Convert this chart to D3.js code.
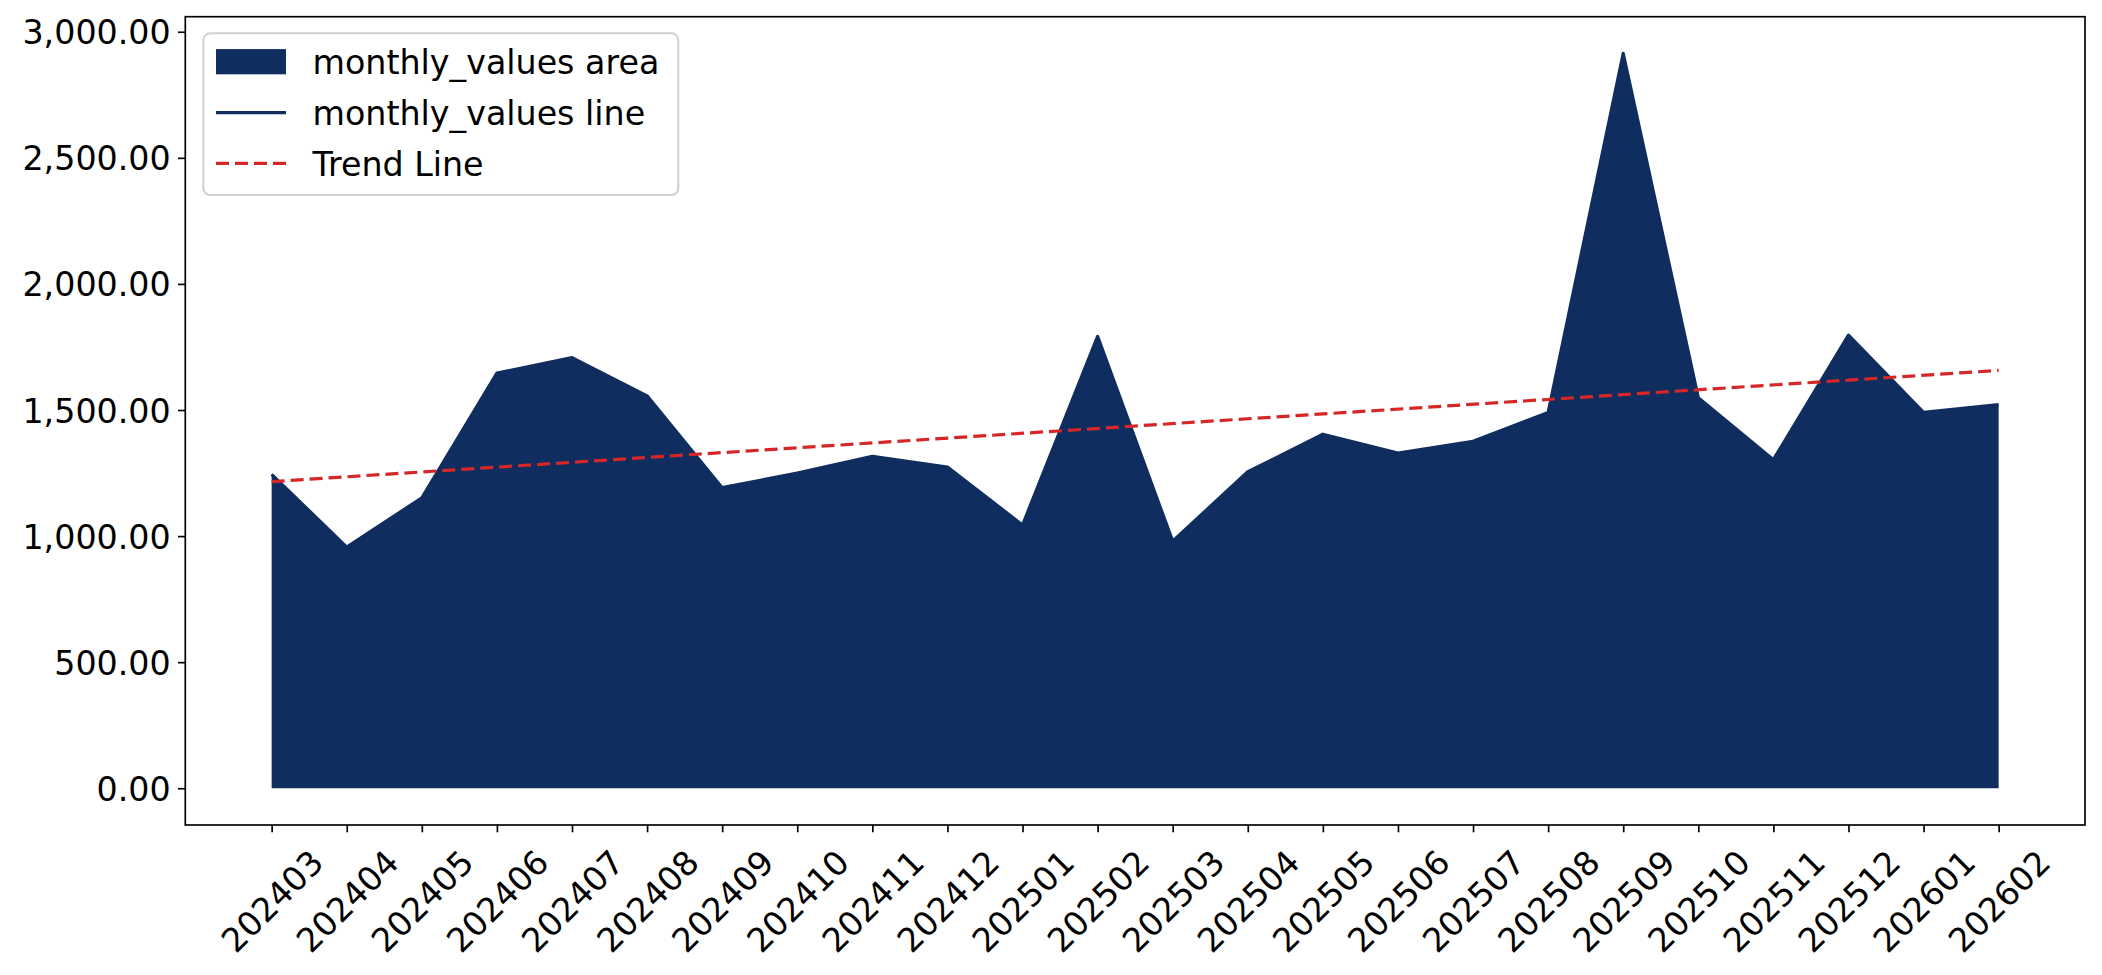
<!DOCTYPE html>
<html>
<head>
<meta charset="utf-8">
<script src="https://cdn.jsdelivr.net/npm/d3@7/dist/d3.min.js"></script>
<style>
  body { margin: 0; background: #fff; }
  svg { display: block; font-family: 'DejaVu Sans', sans-serif; }
</style>
</head>
<body>
<svg id="chart" width="2102" height="975"></svg>
<script>
'use strict'

const months = ['202403', '202404', '202405', '202406', '202407', '202408', '202409', '202410',
  '202411', '202412', '202501', '202502', '202503', '202504', '202505', '202506', '202507',
  '202508', '202509', '202510', '202511', '202512', '202601', '202602']

const monthlyValues = [1245, 956, 1152, 1646, 1708, 1556, 1192, 1250, 1316, 1274, 1044, 1792,
  980, 1255, 1404, 1329, 1376, 1490, 2914, 1549, 1303, 1797, 1491, 1521]

// trend line as read at the first and last month
const trendEnds = [1216, 1657]

const yTicks = [0, 500, 1000, 1500, 2000, 2500, 3000]

const legendLabels = ['monthly_values area', 'monthly_values line', 'Trend Line']

const navy = '#0f2d5e'
const red = '#d62728'
const fontPx = 33.3
const tickLen = 7.3
const tickPad = 7.3
const lineWidth = 3.2
const dashes = '13,6'

const frame = { left: 185.3, right: 2085, top: 16.7, bottom: 825 }

const svg = d3.select('#chart')

const points = monthlyValues.map((v, i) => ({ i, v }))

// matplotlib style 5% margins on both axes
const n = months.length - 1
const x = d3.scaleLinear()
  .domain([-0.05 * n, n * 1.05])
  .range([frame.left, frame.right])

const yMax = d3.max(monthlyValues)
const y = d3.scaleLinear()
  .domain([-0.05 * yMax, yMax * 1.05])
  .range([frame.bottom, frame.top])

const plot = svg.append('g')

plot.append('path')
  .datum(points)
  .attr('fill', navy)
  .attr('d', d3.area()
    .x(d => x(d.i))
    .y0(y(0))
    .y1(d => y(d.v)))

// round joins so the sharp peaks don't get long miter spikes
plot.append('path')
  .datum(points)
  .attr('fill', 'none')
  .attr('stroke', navy)
  .attr('stroke-width', lineWidth)
  .attr('stroke-linejoin', 'round')
  .attr('d', d3.line().x(d => x(d.i)).y(d => y(d.v)))

plot.append('path')
  .datum([{ i: 0, v: trendEnds[0] }, { i: n, v: trendEnds[1] }])
  .attr('fill', 'none')
  .attr('stroke', red)
  .attr('stroke-width', lineWidth)
  .attr('stroke-dasharray', dashes)
  .attr('d', d3.line().x(d => x(d.i)).y(d => y(d.v)))

// y axis
const yAxis = svg.append('g')
  .attr('transform', `translate(${frame.left},0)`)
  .call(d3.axisLeft(y)
    .tickValues(yTicks)
    .tickFormat(d3.format(',.2f'))
    .tickSize(tickLen)
    .tickPadding(tickPad))

yAxis.select('.domain').remove()
yAxis.selectAll('.tick line').attr('stroke', '#000').attr('stroke-width', 1.67)
yAxis.selectAll('.tick text')
  .attr('fill', '#000')
  .attr('font-size', fontPx)
  .attr('font-family', 'DejaVu Sans')
  .attr('dy', '0.36em')

// x axis, labels turned 45 degrees about their centres
const xAxis = svg.append('g')
  .attr('transform', `translate(0,${frame.bottom})`)
  .call(d3.axisBottom(x)
    .tickValues(d3.range(months.length))
    .tickFormat(i => months[i])
    .tickSize(tickLen))

xAxis.select('.domain').remove()
xAxis.selectAll('.tick line').attr('stroke', '#000').attr('stroke-width', 1.67)
xAxis.selectAll('.tick text')
  .attr('fill', '#000')
  .attr('font-size', fontPx)
  .attr('font-family', 'DejaVu Sans')
  .attr('text-anchor', 'middle')
  .attr('y', 0)
  .attr('dy', '0.36em')
  .attr('transform', 'translate(0,76) rotate(-45)')

svg.append('rect')
  .attr('x', frame.left)
  .attr('y', frame.top)
  .attr('width', frame.right - frame.left)
  .attr('height', frame.bottom - frame.top)
  .attr('fill', 'none')
  .attr('stroke', '#000')
  .attr('stroke-width', 1.67)

// legend
const legend = svg.append('g')

legend.append('rect')
  .attr('x', 203.3)
  .attr('y', 33.3)
  .attr('width', 475)
  .attr('height', 161.7)
  .attr('rx', 7)
  .attr('fill', '#fff')
  .attr('fill-opacity', 0.8)
  .attr('stroke', '#d0d0d0')
  .attr('stroke-width', 2)

const rowY = [61.7, 112.7, 163.3]
const handleX = [216, 286]

legend.append('rect')
  .attr('x', handleX[0])
  .attr('y', rowY[0] - 12.6)
  .attr('width', handleX[1] - handleX[0])
  .attr('height', 25.2)
  .attr('fill', navy)

legend.append('line')
  .attr('x1', handleX[0]).attr('x2', handleX[1])
  .attr('y1', rowY[1]).attr('y2', rowY[1])
  .attr('stroke', navy)
  .attr('stroke-width', lineWidth)

legend.append('line')
  .attr('x1', handleX[0]).attr('x2', handleX[1])
  .attr('y1', rowY[2]).attr('y2', rowY[2])
  .attr('stroke', red)
  .attr('stroke-width', lineWidth)
  .attr('stroke-dasharray', dashes)

legend.selectAll('.legend-label')
  .data(legendLabels)
  .enter()
  .append('text')
  .classed('legend-label', true)
  .attr('x', 312.5)
  .attr('y', (d, i) => rowY[i])
  .attr('dy', '0.37em')
  .attr('font-size', fontPx)
  .attr('fill', '#000')
  .text(d => d)
</script>
</body>
</html>
